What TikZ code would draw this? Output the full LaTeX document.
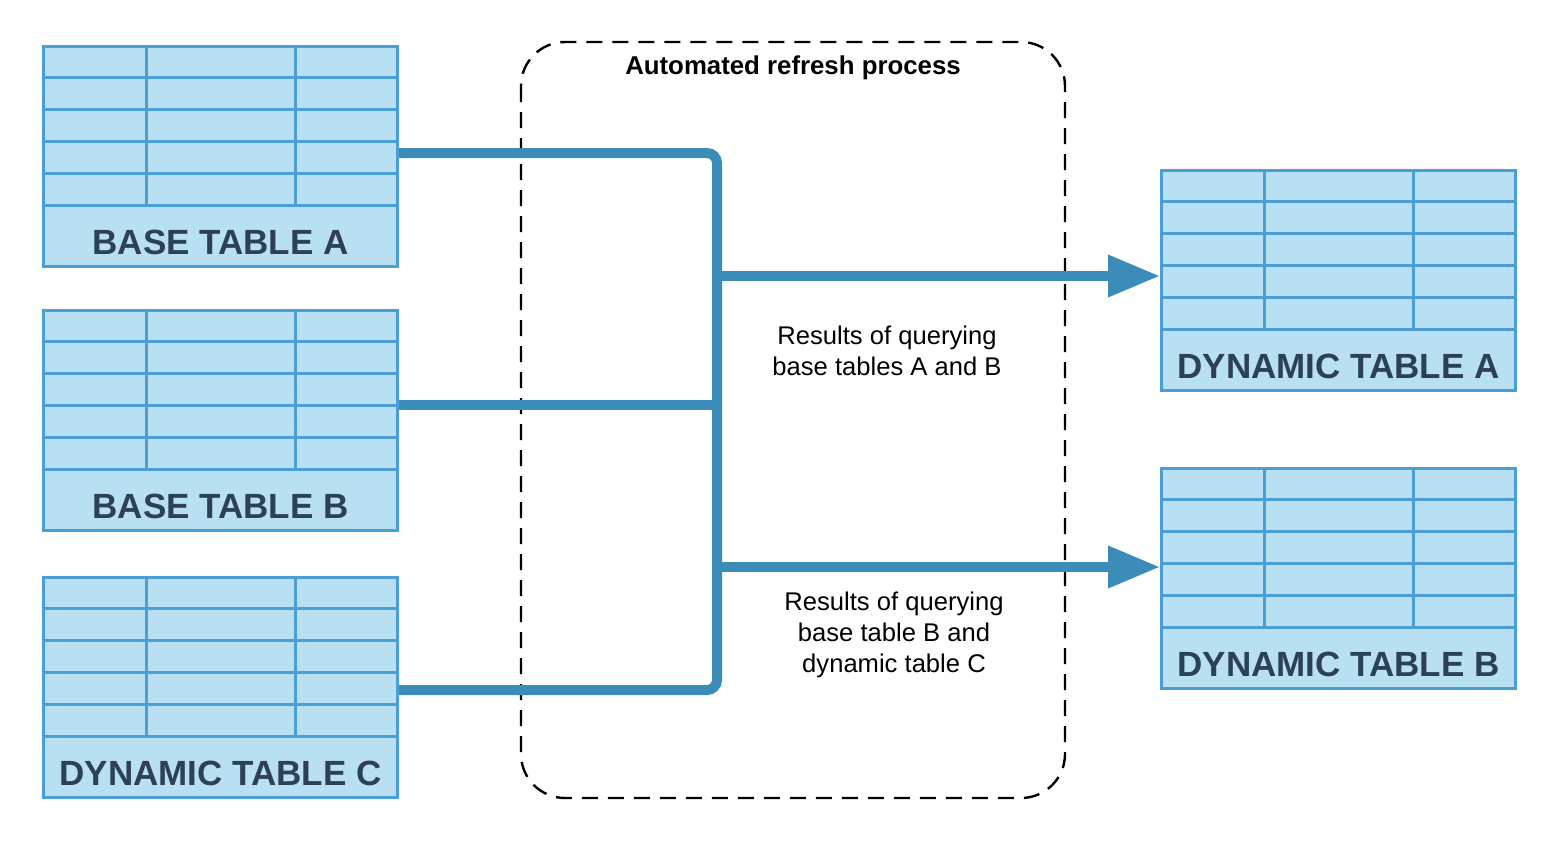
\documentclass[tikz,border=0pt]{standalone}
\usepackage{fontspec}
\setmainfont{Liberation Sans}
\usetikzlibrary{arrows.meta,calc}
\definecolor{tfill}{RGB}{184,224,242}
\definecolor{tline}{RGB}{74,160,214}
\definecolor{ttext}{RGB}{45,65,85}
\definecolor{flow}{RGB}{60,140,185}
\newcommand{\mytable}[4]{% name, x, y(top), label
  \node[tbl, anchor=north west] (#1) at (#2,#3) {};
  \foreach \k in {1,...,5} {\draw[tline, line width=1.5pt] ($(#1.north west)+(0,{32*\k})$) -- ++(354,0);}
  \draw[tline, line width=1.5pt] ($(#1.north west)+(104,0)$) -- ++(0,160);
  \draw[tline, line width=1.5pt] ($(#1.north west)+(253,0)$) -- ++(0,160);
  \node[lbl] at ($(#1.south)+(0,-26)$) {#4};
}
\begin{document}
\begin{tikzpicture}[x=0.5pt,y=-0.5pt,
  tbl/.style={draw=tline, fill=tfill, line width=1.5pt, minimum width=177pt, minimum height=110pt, inner sep=0pt},
  lbl/.style={text=ttext, font=\bfseries\fontsize{17.5}{20}\selectfont},
  flowl/.style={draw=flow, line width=5pt, rounded corners=5pt},
  arr/.style={flowl, -{Triangle[length=26pt,width=20pt]}},
  note/.style={font=\fontsize{12.8}{15.5}\selectfont, align=center}]
\useasboundingbox (0,0) rectangle (1568,848);
\mytable{bta}{42}{45}{BASE TABLE A}
\mytable{btb}{42}{309}{BASE TABLE B}
\mytable{dtc}{42}{576}{DYNAMIC TABLE C}
\mytable{dta}{1160}{169}{DYNAMIC TABLE A}
\mytable{dtb}{1160}{467}{DYNAMIC TABLE B}
\draw[dashed, line width=1.2pt, rounded corners=22pt, dash pattern=on 8pt off 5pt] (521,42) rectangle (1065,798);
\node[font=\bfseries\fontsize{12.9}{15}\selectfont] (title) at (793,68) {Automated refresh process};
\coordinate (ja) at (717,153);
\coordinate (jb) at (717,405);
\coordinate (jc) at (717,690);
\coordinate (sa) at (717,276);
\coordinate (sb) at (717,567);
\draw[flowl] (bta.east |- ja) -- (ja) -- (jc) -- (dtc.east |- jc);
\draw[flowl] (btb.east |- jb) -- (jb);
\draw[arr] (sa) -- (dta.west |- sa);
\draw[arr] (sb) -- (dtb.west |- sb);
\node[note] (na) at (887,351) {Results of querying\\base tables A and B};
\node[note] (nb) at (894,635) {Results of querying\\base table B and\\dynamic table C};
\end{tikzpicture}
\end{document}
